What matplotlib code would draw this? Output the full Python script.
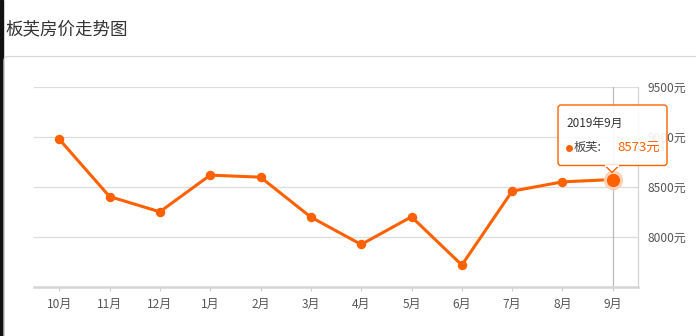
import matplotlib
matplotlib.use("Agg")
import matplotlib.pyplot as plt
from matplotlib.patches import FancyBboxPatch, Rectangle, Polygon

plt.rcParams["font.family"] = ["Noto Sans CJK SC", "DejaVu Sans"]

months = ["10月", "11月", "12月", "1月", "2月", "3月", "4月", "5月", "6月", "7月", "8月", "9月"]
prices = [8978, 8403, 8250, 8617, 8597, 8197, 7923, 8200, 7717, 8457, 8550, 8573]
y_ticks = [8000, 8500, 9000, 9500]
title = "板芙房价走势图"
tip_date = "2019年9月"
tip_name = "板芙:"

ORANGE = "#ff6100"
W, H = 696, 336
fig = plt.figure(figsize=(W / 100, H / 100), dpi=100)


def pixel_axes(z):
    a = fig.add_axes([0, 0, 1, 1], zorder=z)
    a.set_xlim(0, W)
    a.set_ylim(H, 0)
    a.axis("off")
    a.patch.set_alpha(0)
    return a


# page decorations (pixel coords)
deco = pixel_axes(0)
deco.add_patch(Rectangle((0, 0), 2.5, H, color="#111111"))
deco.add_patch(FancyBboxPatch((4, 56.5), W + 20, H, boxstyle="round,pad=0,rounding_size=4",
                              fill=False, ec="#d9d9d9", lw=0.9))
deco.text(5, 29, title, fontsize=12.6, color="#333333", va="center", ha="left")

# chart
x0, x1, yt, yb = 34, 638, 87, 286.7
ax = fig.add_axes([x0 / W, 1 - yb / H, (x1 - x0) / W, (yb - yt) / H], zorder=1)
ax.patch.set_alpha(0)
xs = list(range(len(months)))
ax.set_xlim(-0.5, len(months) - 0.5)
ax.set_ylim(7500, 9500)
for v in y_ticks:
    ax.axhline(v, color="#dcdcdc", lw=0.9, zorder=0)
for s in ["top", "left"]:
    ax.spines[s].set_visible(False)
ax.spines["bottom"].set_color("#d4d4d4")
ax.spines["bottom"].set_linewidth(1.8)
ax.spines["right"].set_color("#d4d4d4")
ax.spines["right"].set_linewidth(0.9)

ax.set_xticks(xs)
ax.set_xticklabels(months)
ax.tick_params(axis="x", length=3, width=0.8, color="#cccccc", labelsize=8.6,
               labelcolor="#555555", pad=5)
ax.yaxis.tick_right()
ax.set_yticks(y_ticks)
ax.set_yticklabels([f"{v}元" for v in y_ticks])
ax.tick_params(axis="y", length=0, labelsize=8.6, labelcolor="#555555", pad=7)

# crosshair at last point
ax.axvline(xs[-1], color="#bbbbbb", lw=0.9, zorder=1)

ax.plot(xs, prices, color=ORANGE, lw=2.2, marker="o", ms=5.8, zorder=3, clip_on=False)
ax.plot(xs[-1], prices[-1], "o", ms=13, color="#ffd2b8", zorder=4, clip_on=False)
ax.plot(xs[-1], prices[-1], "o", ms=8.5, color=ORANGE, zorder=5, clip_on=False)

# tooltip on top
tip = pixel_axes(2)
tx0, tx1, ty0, ty1 = 558, 667, 105, 165.5
tip.add_patch(FancyBboxPatch((tx0, ty0), tx1 - tx0, ty1 - ty0,
                             boxstyle="round,pad=0,rounding_size=3",
                             fc=(1, 1, 1, 0.9), ec=ORANGE, lw=1.0, zorder=10))
tip.add_patch(Polygon([(605, ty1), (612, 172.5), (619, ty1)], closed=False,
                      fc="white", ec=ORANGE, lw=1.0, zorder=11))
tip.plot([605.8, 618.2], [ty1, ty1], color="white", lw=1.4, zorder=12)
tip.text(566, 123, tip_date, fontsize=8.5, color="#333333", va="center", zorder=13)
tip.plot(568.5, 148, "o", ms=4, color=ORANGE, zorder=13)
tip.text(574, 147.5, tip_name, fontsize=8.8, color="#444444", va="center", zorder=13)
tip.text(617, 147.5, f"{prices[-1]}元", fontsize=9.5, color=ORANGE, va="center", zorder=13)

fig.savefig("out.png", dpi=100)
